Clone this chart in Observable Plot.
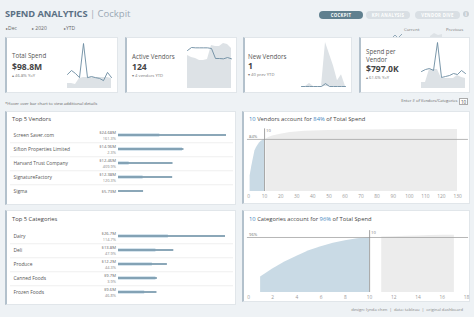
<!DOCTYPE html>
<html><head><meta charset="utf-8">
<script src="https://cdn.jsdelivr.net/npm/d3@7"></script>
<script src="https://cdn.jsdelivr.net/npm/@observablehq/plot@0.6"></script>
<style>
html,body{margin:0;padding:0;background:#eef2f5;}
#root{position:relative;width:474px;height:317px;overflow:hidden;font-family:"Open Sans",sans-serif;color:#555;}
.panel{position:absolute;background:#fff;border:1px solid #e1e6ea;border-left:2px solid #b3c1cc;box-sizing:border-box;}
.btn{position:absolute;top:11px;height:8px;border-radius:4px;color:#fff;font-weight:700;font-size:4.3px;line-height:8px;text-align:center;letter-spacing:0.3px;}
svg{overflow:visible;}
</style></head>
<body><div id="root"></div>
<script>
// ---------- data ----------
const months = ["Jan","Feb","Mar","Apr","May","Jun","Jul","Aug","Sep","Oct","Nov","Dec"];
const spendCurrent  = [7.5,9.6,8.0,5.8,24.0,5.8,6.4,5.8,5.4,4.2,8.6,5.8];
const spendPrevious = [2.7,2.7,2.1,5.3,5.9,5.9,5.9,5.9,5.9,5.9,5.9,5.3];
const vendorsCurrent  = [114,123,122,122,122,122,120,90,90,89,93,89];
const vendorsPrevious = [99,93,90,84,84,87,129,126,126,135,132,120];
const newVendorsCurrent  = [0,0,0,0,0,0,1,0,0,0,0,0];
const newVendorsPrevious = [0,0,1,0,0,0,15,11,7,2,4,0];
const spvCurrent  = [765,855,900,810,2070,495,540,585,675,630,810,675];
const spvPrevious = [270,270,855,855,855,450,450,450,450,585,495,450];

const kpiLabels = ["Total Spend","Active Vendors","New Vendors","Spend per<br>Vendor"];
const kpiValues = ["$98.8M","124","1","$797.0K"];
const kpiDeltas = ["▴ 46.8% YoY","▾ 4 vendors YTD","▾ 40 prev YTD","▴ 61.6% YoY"];

const vendorNames = ["Screen Saver.com","Sifton Properties Limited","Harvard Trust Company","SignatureFactory","Sigma"];
const vendorSpend = [24.68,14.96,12.46,12.38,5.73];
const vendorGrowth = [161.3,2.3,409.9,120.3,null];

const categoryNames = ["Dairy","Deli","Produce","Canned Foods","Frozen Foods"];
const categorySpend = [26.7,13.8,12.2,9.7,9.6];
const categoryGrowth = [114.7,47.9,44.3,3.9,46.8];

const vendorHeadRank  = [1,2,3,4,5,6,7,8,9,10];
const vendorHeadShare = [0.25,0.401,0.527,0.652,0.71,0.75,0.785,0.81,0.828,0.84];
const vendorTailRank  = [11,13,15,20,26,35,50,70,100,130];
const vendorTailShare = [0.85,0.875,0.895,0.925,0.95,0.97,0.985,0.993,0.998,1.0];
const vendorTicks = [0,10,20,30,40,50,60,70,80,90,100,110,120,130];

const catHeadRank  = [1,2,3,4,5,6,7,8,9,10];
const catHeadShare = [0.27,0.41,0.534,0.632,0.729,0.80,0.86,0.905,0.94,0.96];
const catTailRank  = [11,12,13,14,15,16,17];
const catTailShare = [0.968,0.975,0.982,0.988,0.993,0.997,1.0];
const catTicks = [0,2,4,6,8,10,12,14,16,18];

const topN = 10;
const vendorCutShare = 0.84;
const catCutShare = 0.96;

// ---------- helpers ----------
const root = document.getElementById("root");
const FONT = '"Open Sans", sans-serif';
function T(x, cy, html, size, extra = "", anchor = "start") {
  const d = document.createElement("div");
  d.innerHTML = html;
  d.style.cssText = `position:absolute;white-space:nowrap;font-size:${size}px;line-height:${size*1.1}px;top:${cy-size*0.55}px;${extra}`;
  if (anchor === "end") d.style.right = (474 - x) + "px"; else d.style.left = x + "px";
  root.appendChild(d);
  return d;
}
function box(cls, x, y, w, h, extra = "") {
  const d = document.createElement("div");
  d.className = cls;
  d.style.cssText += `left:${x}px;top:${y}px;width:${w}px;height:${h}px;${extra}`;
  root.appendChild(d);
  return d;
}
function place(el, x, y) {
  const d = document.createElement("div");
  d.style.cssText = `position:absolute;left:${x}px;top:${y}px;`;
  d.appendChild(el);
  root.appendChild(d);
}

// ---------- header ----------
T(5, 14.5, '<b style="color:#5b7084;letter-spacing:-0.1px">SPEND ANALYTICS</b> <span style="color:#9aa8b4;font-size:9.5px">| Cockpit</span>', 9.3);
T(6, 29, '<span style="font-size:4px">▸</span>Dec', 5, "color:#666");
T(32, 29, '<span style="font-size:4px">▸</span> 2020', 5, "color:#666");
T(64, 29, '<span style="font-size:4px">▸</span>YTD', 5, "color:#666");
const b1 = box("btn", 319, 11, 44, 8, "background:#60808f;"); b1.textContent = "COCKPIT";
const b2 = box("btn", 366, 11, 44, 8, "background:#d9dfe4;"); b2.textContent = "KPI ANALYSIS";
const b3 = box("btn", 415, 11, 45, 8, "background:#d9dfe4;"); b3.textContent = "VENDOR DIVE";
const info = box("", 463, 11, 6, 6, "position:absolute;border-radius:3px;background:#c9d0d6;color:#fff;font-size:4.5px;line-height:6px;text-align:center;font-weight:700;"); info.textContent = "i";
// legend
const lg = document.createElementNS("http://www.w3.org/2000/svg","svg");
lg.setAttribute("width","60"); lg.setAttribute("height","10");
lg.innerHTML = '<polyline points="0,7 4,3 7,6 11,2" fill="none" stroke="#6b8ba0" stroke-width="0.7"/><path d="M39,8 L39,4 L43,1 L47,3 L51,2 L51,8 Z" fill="#dde2e6"/>';
place(lg, 391, 25);
T(404, 29.5, "Current", 4.3, "color:#777");
T(446, 29.5, "Previous", 4.3, "color:#777");

// ---------- KPI cards ----------
const cards = [[5,113],[125,112],[243,109],[359,111]];
cards.forEach(([x,w]) => box("panel", x, 37, w, 56));
T(12, 56, kpiLabels[0], 6.2, "color:#555");
T(12, 68, kpiValues[0], 8.6, "color:#444;font-weight:700");
T(12, 76.5, kpiDeltas[0], 4.2, "color:#777");
T(132, 57, kpiLabels[1], 6.2, "color:#555");
T(132, 67.5, kpiValues[1], 8.6, "color:#444;font-weight:700");
T(132, 76, kpiDeltas[1], 4.2, "color:#777");
T(248, 57, kpiLabels[2], 6.2, "color:#555");
T(248, 67, kpiValues[2], 8.6, "color:#444;font-weight:700");
T(248, 75, kpiDeltas[2], 4.2, "color:#777");
const k4 = T(366, 56.2, kpiLabels[3], 6.2, "color:#555;line-height:8.6px");
k4.style.top = "47.5px";
T(366, 69.3, kpiValues[3], 8.6, "color:#444;font-weight:700");
T(366, 77.9, kpiDeltas[3], 4.2, "color:#777");

function spark(cur, prev, max, x, y, w, h) {
  const data = months.map((m, i) => ({m, cur: cur[i], prev: prev[i]}));
  const p = Plot.plot({
    width: w, height: h, margin: 0,
    x: {type: "point", domain: months, padding: 0, axis: null},
    y: {domain: [0, max], axis: null},
    style: {background: "transparent", overflow: "visible"},
    marks: [
      Plot.areaY(data, {x: "m", y: "prev", fill: "#dde2e6"}),
      Plot.lineY(data, {x: "m", y: "cur", stroke: "#6b8ba0", strokeWidth: 0.9})
    ]
  });
  place(p, x, y);
}
spark(spendCurrent, spendPrevious, 24, 63, 43, 51, 45);
spark(vendorsCurrent, vendorsPrevious, 135, 186, 43, 45, 45);
spark(newVendorsCurrent, newVendorsPrevious, 15, 298, 42, 49, 44);
spark(spvCurrent, spvPrevious, 2070, 416, 42, 53, 46);

// ---------- notes ----------
T(5, 104, "*Hover over bar chart to view additional details", 4.2, "color:#666");
T(457.5, 101.5, "Enter # of Vendors/Categories", 4, "color:#666", "end");
const inp = box("", 459, 98, 9, 7, "position:absolute;background:#fff;border:0.5px solid #aaa;box-sizing:border-box;font-size:4.5px;line-height:6px;padding-left:1px;color:#444;");
inp.textContent = String(topN);

// ---------- panels ----------
box("panel", 5, 111, 231, 94);
box("panel", 242, 111, 228, 93);
box("panel", 5, 210, 231, 95);
box("panel", 242, 210, 228, 92);
T(12, 119, "Top 5 Vendors", 5.8, "color:#444");
T(12, 219, "Top 5 Categories", 5.8, "color:#444");
T(249, 119, `<span style="color:#3f86c0">${topN}</span> Vendors account for <span style="color:#3f86c0">${Math.round(vendorCutShare*100)}%</span> of Total Spend`, 5.8, "color:#444");
T(249, 219, `<span style="color:#3f86c0">${topN}</span> Categories account for <span style="color:#3f86c0">${Math.round(catCutShare*100)}%</span> of Total Spend`, 5.8, "color:#444");

function bars(names, spend, growth, fmt, ox, oy, w, h, yRange, xRange) {
  const rows = names.map((n, i) => ({name: n, spend: spend[i], growth: growth[i],
    prev: growth[i] == null ? null : spend[i] / (1 + growth[i] / 100)}));
  const withG = rows.filter(d => d.growth != null), noG = rows.filter(d => d.growth == null);
  const p = Plot.plot({
    width: w, height: h, marginLeft: 5, marginRight: 3, marginTop: 0, marginBottom: 0,
    x: {domain: [0, d3.max(spend)], range: xRange, axis: null},
    y: {type: "band", domain: names, range: yRange, padding: 0, axis: null},
    style: {background: "transparent", overflow: "visible", fontFamily: FONT},
    marks: [
      Plot.ruleY(rows.slice(0, 4), {y: "name", dy: (yRange[1]-yRange[0])/10, stroke: "#e4e4e4", strokeWidth: 0.6}),
      Plot.barX(withG, {x: "prev", y: "name", fill: "#d6e4ed", insetTop: 5, insetBottom: 5}),
      Plot.barX(rows, {x: "spend", y: "name", fill: "#6f92a7", insetTop: 6.2, insetBottom: 6.2}),
      Plot.text(rows, {y: "name", text: "name", frameAnchor: "left", textAnchor: "start", dx: 3, fontSize: 4.9, fill: "#555"}),
      Plot.text(withG, {x: 0, y: "name", text: d => fmt(d.spend), textAnchor: "end", dx: -2.5, dy: -2.6, fontSize: 4.2, fill: "#666"}),
      Plot.text(noG, {x: 0, y: "name", text: d => fmt(d.spend), textAnchor: "end", dx: -2.5, fontSize: 4.2, fill: "#666"}),
      Plot.text(withG, {x: 0, y: "name", text: d => d.growth.toFixed(1) + "%", textAnchor: "end", dx: -2.5, dy: 2.8, fontSize: 3.9, fill: "#888"})
    ]
  });
  place(p, ox, oy);
}
bars(vendorNames, vendorSpend, vendorGrowth, v => "$" + v.toFixed(2) + "M", 5, 111, 231, 94, [16, 88.5], [113, 221]);
bars(categoryNames, categorySpend, categoryGrowth, v => "$" + v.toFixed(1) + "M", 5, 210, 231, 95, [17.75, 90.25], [113, 220]);

function pareto(hr, hs, tr, ts, cutShare, ticks, xMax, ox, oy, w, h, m, ruleX2, vTop) {
  const head = hr.map((r, i) => ({rank: r, share: hs[i]}));
  const tail = tr.map((r, i) => ({rank: r, share: ts[i]}));
  const p = Plot.plot({
    width: w, height: h, marginLeft: m[0], marginRight: m[1], marginTop: m[2], marginBottom: m[3],
    x: {domain: [0, xMax], label: null},
    y: {domain: [0, 1], axis: null},
    style: {background: "transparent", overflow: "visible", fontFamily: FONT, fontSize: "5px", color: "#999"},
    marks: [
      Plot.areaY(head, {x: "rank", y: "share", fill: "#c9dae5"}),
      Plot.areaY(tail, {x: "rank", y: "share", fill: "#ececec"}),
      Plot.ruleY([cutShare], {x1: -xMax*0.005, x2: ruleX2, stroke: "#a3a3a3", strokeWidth: 0.8}),
      Plot.ruleX([topN], {y1: 0, y2: vTop, stroke: "#8c8c8c", strokeWidth: 0.8}),
      Plot.text([cutShare], {x: 0, y: d => d, text: d => Math.round(d * 100) + "%", textAnchor: "start", dx: 0.5, dy: -3.2, fontSize: 4.2, fill: "#777"}),
      Plot.text([topN], {x: d => d, y: vTop, text: d => String(d), textAnchor: "start", dx: 1.5, dy: 1.8, fontSize: 4.2, fill: "#777"}),
      Plot.axisX({ticks, tickSize: 0, tickPadding: 3, fontSize: 4.8, label: null, tickFormat: d => String(d)})
    ]
  });
  place(p, ox, oy);
}
pareto(vendorHeadRank, vendorHeadShare, vendorTailRank, vendorTailShare, vendorCutShare, vendorTicks, 130,
  242, 111, 228, 93, [6, 13, 18, 13], 136.8, 1.01);
pareto(catHeadRank, catHeadShare, catTailRank, catTailShare, catCutShare, catTicks, 18,
  242, 210, 228, 92, [6, 4, 24.7, 10], 18.17, 1.08);

// ---------- footer ----------
T(463, 310, "design: lynda chen &nbsp;|&nbsp; data: tableau &nbsp;|&nbsp; original dashboard", 4.2, "color:#888", "end");
</script></body></html>
